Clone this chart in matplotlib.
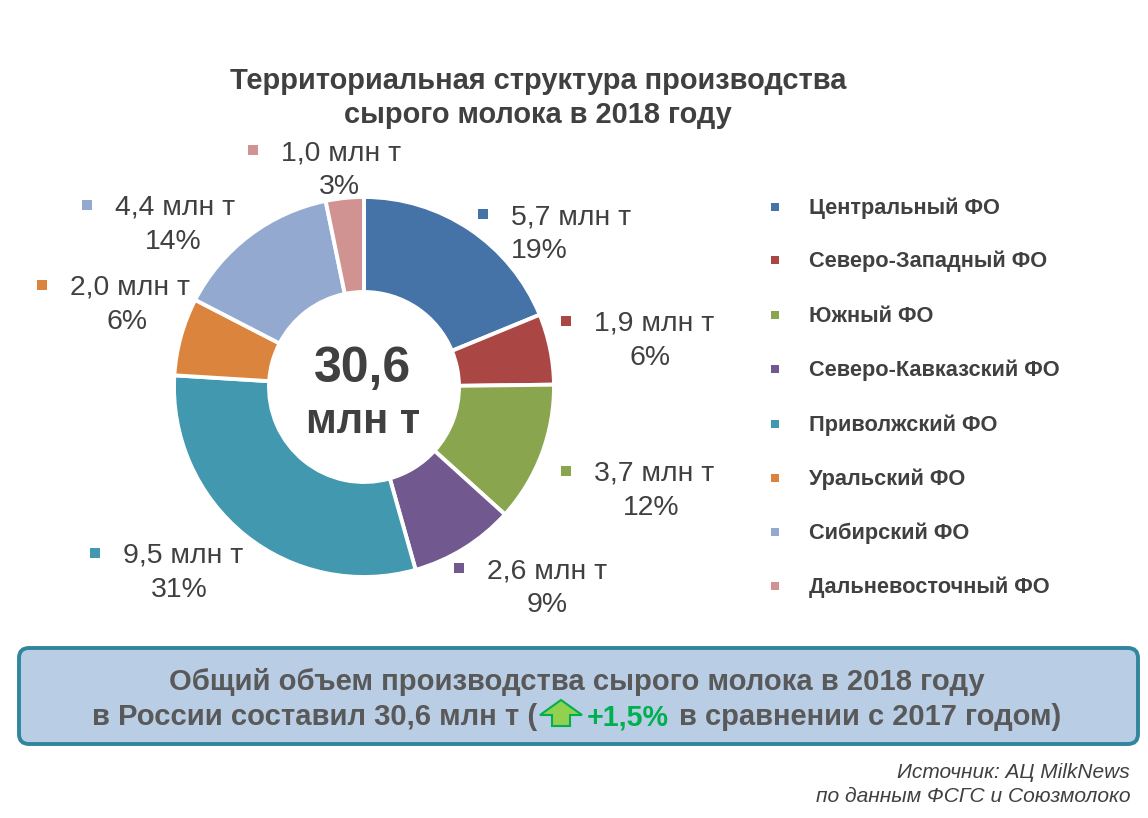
import matplotlib
matplotlib.use("Agg")

import matplotlib.pyplot as plt
from matplotlib.patches import FancyBboxPatch, Polygon

plt.rcParams["font.family"] = ["Liberation Sans", "DejaVu Sans"]

# Data
districts = ["Центральный ФО", "Северо-Западный ФО", "Южный ФО", "Северо-Кавказский ФО",
             "Приволжский ФО", "Уральский ФО", "Сибирский ФО", "Дальневосточный ФО"]
# slice sizes as read from the drawn wedges (млн т)
volumes = [5.75, 1.84, 3.64, 2.73, 9.29, 2.02, 4.34, 0.99]
volume_labels = ["5,7 млн т", "1,9 млн т", "3,7 млн т", "2,6 млн т",
                 "9,5 млн т", "2,0 млн т", "4,4 млн т", "1,0 млн т"]
shares = ["19%", "6%", "12%", "9%", "31%", "6%", "14%", "3%"]
colors = ["#4572A7", "#AA4643", "#89A54E", "#71588F", "#4198AF", "#DB843D", "#93A9CF", "#D19392"]

W, H = 1148, 818
TEXT = "#404040"
BOX_TEXT = "#595959"

fig = plt.figure(figsize=(W / 100, H / 100), dpi=100, facecolor="white")

# overlay in pixel coordinates
bg = fig.add_axes([0, 0, 1, 1])
bg.set_xlim(0, W)
bg.set_ylim(H, 0)
bg.axis("off")

# Donut: centre 364,387, radius 190
R = 190
ax = fig.add_axes([(364 - R) / W, 1 - (387 + R) / H, 2 * R / W, 2 * R / H])
ax.pie(volumes, colors=colors, startangle=90, counterclock=False, radius=1,
       wedgeprops=dict(width=0.5, edgecolor="white", linewidth=2.8))
ax.set_xlim(-1, 1)
ax.set_ylim(-1, 1)

# Title
bg.text(538, 81, "Территориальная структура производства",
        ha="center", va="center", fontsize=20.9, fontweight="bold", color=TEXT)
bg.text(538, 115, "сырого молока в 2018 году",
        ha="center", va="center", fontsize=20.9, fontweight="bold", color=TEXT)

# Centre
bg.text(362, 369, "30,6", ha="center", va="center", fontsize=36, fontweight="bold", color=TEXT)
bg.text(363, 422, "млн т", ha="center", va="center", fontsize=30, fontweight="bold", color=TEXT)

# Data labels: marker x, y, text centre x
label_pos = [(483, 214, 539), (566, 321, 650), (566, 471, 651), (459, 568, 547),
             (95, 553, 179), (42, 285, 127), (87, 205, 173), (253, 150, 339)]
for i, (mx, my, cx) in enumerate(label_pos):
    bg.scatter([mx], [my], marker="s", s=54, color=colors[i], linewidths=0)
    bg.text(mx + 28, my + 3, volume_labels[i], ha="left", va="center", fontsize=20.4, color=TEXT)
    bg.text(cx, my + 37, shares[i], ha="center", va="center", fontsize=20.4, color=TEXT)

# Legend
legend_y = [207, 260, 315, 369, 424, 478, 532, 586]
for i, y in enumerate(legend_y):
    bg.scatter([775], [y], marker="s", s=26, color=colors[i], linewidths=0)
    bg.text(809, y + 1, districts[i], ha="left", va="center", fontsize=15.7, fontweight="bold", color=TEXT)

# Bottom box
bg.add_patch(FancyBboxPatch((19, 648), 1119, 96, boxstyle="round,pad=0,rounding_size=10",
                            facecolor="#B9CDE5", edgecolor="#31859C", linewidth=2.8))
bg.text(577, 682, "Общий объем производства сырого молока в 2018 году",
        ha="center", va="center", fontsize=21.1, fontweight="bold", color=BOX_TEXT)
bg.text(92, 717, "в России составил 30,6 млн т (", ha="left", va="center",
        fontsize=21.1, fontweight="bold", color=BOX_TEXT)
bg.text(587, 717, "+1,5%", ha="left", va="center", fontsize=20.6, fontweight="bold", color="#00B050")
bg.text(679, 717, "в сравнении с 2017 годом)", ha="left", va="center",
        fontsize=21, fontweight="bold", color=BOX_TEXT)
bg.add_patch(Polygon([(561, 700), (582, 715), (570, 715), (570, 726), (552, 726), (552, 715), (540, 715)],
                     closed=True, facecolor="#92D050", edgecolor="#00B050", linewidth=1.5))

# Source
bg.text(1130, 773, "Источник: АЦ MilkNews", ha="right", va="center", fontsize=15, style="italic", color=TEXT)
bg.text(1130, 797, "по данным ФСГС и Союзмолоко", ha="right", va="center", fontsize=15.1, style="italic", color=TEXT)

fig.savefig("out.png", dpi=100)
plt.close(fig)
